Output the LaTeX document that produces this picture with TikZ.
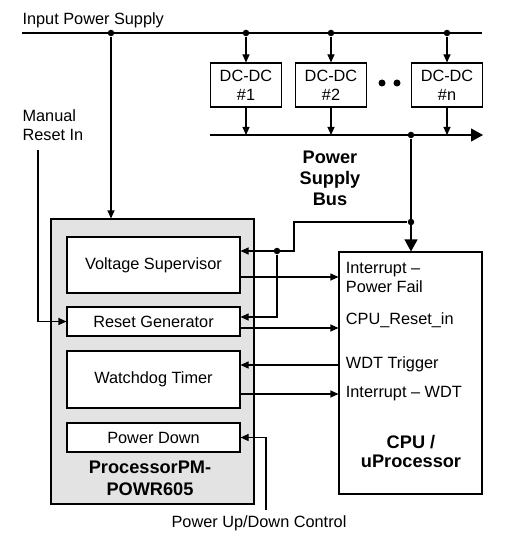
\documentclass[tikz,border=0pt]{standalone}
\usepackage{fontspec}
\setmainfont{Liberation Sans}
\usetikzlibrary{arrows.meta}

\tikzset{
  blk/.style={draw,fill=white,minimum width=173pt,inner sep=0pt,align=center},
  dcblk/.style={draw,fill=white,minimum width=71pt,minimum height=44pt,inner sep=0pt,align=center},
  dot/.style={circle,fill,inner sep=0pt,minimum size=6.5pt},
  arr/.style={-{Triangle[length=8pt,width=7pt]}},
  bigarr/.style={-{Triangle[length=12pt,width=13pt]}},
  boldlbl/.style={font=\fontsize{18.2}{21}\selectfont\bfseries,align=center},
}

\begin{document}
\begin{tikzpicture}[x=1pt,y=-1pt,line width=1.1pt,font=\fontsize{16.3}{19}\selectfont]
                        \useasboundingbox (0,0) rectangle (515,548);
                        % Input supply
                        \node[anchor=base west,inner sep=0pt] (inlbl) at (22,25) {Input Power Supply};
                        \coordinate (inL) at (22,33);
                        \coordinate (inR) at (482,33);
                        \draw (inL) -- (inR);
                        \draw (111,33) node[dot] (j0) {};
                        \draw (246,33) node[dot] (j1) {};
                        \draw (331,33) node[dot] (j2) {};
                        \draw (447,33) node[dot] (jn) {};
                        % DC-DC converters
                        \draw (246,85) node[dcblk] (dc1) {DC-DC\\\#1};
                        \draw (331,85) node[dcblk] (dc2) {DC-DC\\\#2};
                        \draw (447,85) node[dcblk] (dcn) {DC-DC\\\#n};
                        \draw (382,83) node[dot,minimum size=7pt] (e1) {};
                        \draw (397,83) node[dot,minimum size=7pt] (e2) {};
                        \draw[arr] (j1) -- (dc1);
                        \draw[arr] (j2) -- (dc2);
                        \draw[arr] (jn) -- (dcn);
                        % Power supply bus
                        \coordinate (busL) at (210,135);
                        \coordinate (busR) at (483,135);
                        \draw[bigarr] (busL) -- (busR);
                        \draw[arr] (dc1) -- (dc1 |- busL);
                        \draw[arr] (dc2) -- (dc2 |- busL);
                        \draw[arr] (dcn) -- (dcn |- busL);
                        \draw (411,135) node[dot] (jb) {};
                        \node[boldlbl] (buslbl) at (330,178) {Power\\Supply\\Bus};
                        % ProcessorPM
                        \draw (152.5,361.5) node[draw,fill=black!11,minimum width=203pt,minimum height=285pt] (pm) {};
                        \draw (153.5,265) node[blk,minimum height=56pt] (vs) {Voltage Supervisor};
                        \draw (153.5,321.5) node[blk,minimum height=29pt] (rg) {Reset Generator};
                        \draw (153.5,379.5) node[blk,minimum height=57pt] (wd) {Watchdog Timer};
                        \draw (153.5,437.5) node[blk,minimum height=29pt] (pd) {Power Down};
                        \node[boldlbl,font=\fontsize{18.2}{22}\selectfont\bfseries] (pmlbl) at (150,478) {ProcessorPM-\\POWR605};
                        \draw[arr] (j0) -- (j0 |- pm.north);
                        % CPU
                        \draw (410.5,373) node[draw,minimum width=143pt,minimum height=242pt] (cpu) {};
                        \node[anchor=west,align=left] (pf) at (342,277) {Interrupt \textendash\\Power Fail};
                        \node[anchor=west] (rin) at (342,320) {CPU\_Reset\_in};
                        \node[anchor=west] (trig) at (342,364) {WDT Trigger};
                        \node[anchor=west] (iw) at (342,394) {Interrupt \textendash\ WDT};
                        \node[boldlbl,font=\fontsize{18.2}{19}\selectfont\bfseries] (cpulbl) at (411,451) {CPU /\\uProcessor};
                        % bus to CPU and supervisor
                        \draw (411,222) node[dot] (jc) {};
                        \draw[bigarr] (jb) -- (jb |- cpu.north);
                        \coordinate (k) at (294,251);
                        \draw (277,251) node[dot] (jv) {};
                        \draw[arr] (jc) -| (k) -- (vs.east |- k);
                        \draw[arr] (jv) |- ([yshift=4.5pt]rg.east);
                        % signals
                        \draw[arr] ([yshift=-12pt]vs.east) coordinate (a1) -- (a1 -| cpu.west);
                        \draw[arr] ([yshift=-6.5pt]rg.east) coordinate (a2) -- (a2 -| cpu.west);
                        \draw[arr] ([yshift=14.5pt]wd.east -| cpu.west) -- ([yshift=14.5pt]wd.east);
                        \draw[arr] ([yshift=-14.5pt]wd.east) coordinate (a4) -- (a4 -| cpu.west);
                        % manual reset
                        \node[anchor=north west,align=left,inner sep=0pt] (mrlbl) at (22,109) {Manual\\Reset In};
                        \coordinate (mr) at (38,150);
                        \draw[arr] (mr) |- (rg.west);
                        % power up/down
                        \node (pudc) at (259,523) {Power Up/Down Control};
                        \coordinate (pu) at (266,510);
                        \draw[arr] (pu) |- (pd.east);
\end{tikzpicture}
\end{document}
